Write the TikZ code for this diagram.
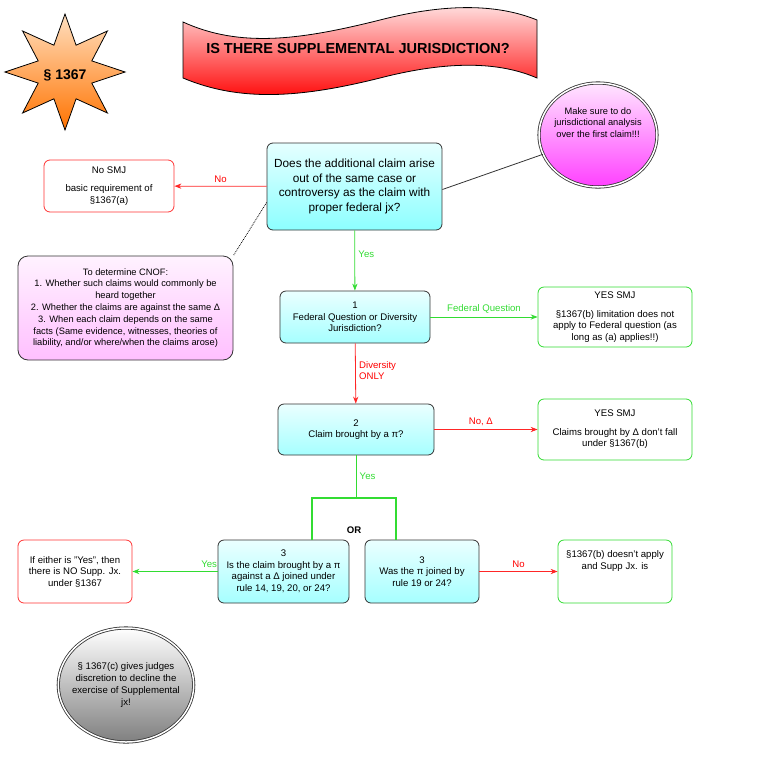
\documentclass[tikz,border=0pt]{standalone}
\usepackage{fontspec}
\setmainfont{Liberation Sans}
\usetikzlibrary{arrows.meta,shapes.geometric}
\definecolor{okgreen}{RGB}{50,220,50}
\tikzset{
  qbox/.style={draw=black!80,rounded corners=6pt,top color=cyan!8,bottom color=cyan!35,align=center,font=\fontsize{9.6}{11.5}\selectfont,inner sep=1pt},
  nobox/.style={draw=red!80,rounded corners=6pt,fill=white,align=center,font=\fontsize{9.6}{11.5}\selectfont,inner sep=1pt},
  yesbox/.style={draw=okgreen,rounded corners=6pt,fill=white,align=center,font=\fontsize{9.6}{11.5}\selectfont,inner sep=1pt},
  yesarr/.style={draw=okgreen,-{Stealth[length=7pt]}},
  noarr/.style={draw=red!85,-{Stealth[length=7pt]}},
  lbl/.style={font=\fontsize{9.6}{11}\selectfont}
}
\begin{document}
\begin{tikzpicture}[x=1pt,y=-1pt,line width=0.8pt]
 		\useasboundingbox (0,0) rectangle (768,761);
 		% star and banner
 		\draw[top color=orange!25,bottom color=orange!90!red] plot[samples at={0,...,15}] ({65+(mod(\x,2)==0?60:29)*sin(\x*22.5)},{72-(mod(\x,2)==0?58:29)*cos(\x*22.5)}) -- cycle;
 		\node[font=\bfseries\fontsize{14}{15}\selectfont] (sec) at (65,75) {§ 1367};
 		\draw[top color=red!10,bottom color=red] (183,22) .. controls (240,48) and (300,40) .. (380,20) .. controls (450,2) and (500,5) .. (537,20) -- (537,78) .. controls (500,62) and (450,60) .. (380,78) .. controls (300,98) and (240,102) .. (183,78) -- cycle;
 		\node[font=\bfseries\fontsize{14.5}{16}\selectfont] (title) at (358,49) {IS THERE SUPPLEMENTAL JURISDICTION?};
 		% main question
 		\node[qbox,font=\fontsize{11.8}{14.5}\selectfont,minimum width=175pt,minimum height=87pt,top color=cyan!10,bottom color=cyan!45] (cnof) at (354.5,186.5) {Does the additional claim arise\\out of the same case or\\controversy as the claim with\\proper federal jx?};
 		\node[nobox,minimum width=130pt,minimum height=52pt] (nosmj) at (109,186) {No SMJ\\[7pt]basic requirement of\\§1367(a)};
 		\node[draw=black!80,rounded corners=10pt,top color=magenta!5,bottom color=magenta!25,align=center,minimum width=215pt,minimum height=104pt,inner sep=1pt,font=\fontsize{9.3}{11.8}\selectfont] (test) at (125.5,308) {To determine CNOF:\\1. Whether such claims would commonly be\\heard together\\2. Whether the claims are against the same Δ\\3. When each claim depends on the same\\facts (Same evidence, witnesses, theories of\\liability, and/or where/when the claims arose)};
 		\node[draw=black!80,double=white,double distance=1.5pt,ellipse,top color=magenta!10,bottom color=magenta!75,minimum width=118pt,minimum height=104pt,align=center,inner sep=-2pt,font=\fontsize{9.3}{11.5}\selectfont] (first) at (598,135) {Make sure to do\\jurisdictional analysis\\over the first claim!!!\\[14pt]};
 		% steps
 		\node[qbox,minimum width=150pt,minimum height=52pt] (fq) at (355,317) {1\\Federal Question or Diversity\\Jurisdiction?};
 		\node[yesbox,minimum width=154pt,minimum height=60pt] (yes1) at (615,317) {YES SMJ\\[7pt]§1367(b) limitation does not\\apply to Federal question (as\\long as (a) applies!!)};
 		\node[qbox,minimum width=156pt,minimum height=51pt] (pi) at (356,429.5) {2\\Claim brought by a π?};
 		\node[yesbox,minimum width=154pt,minimum height=61pt] (yes2) at (615,429.5) {YES SMJ\\[7pt]Claims brought by Δ don't fall\\under §1367(b)};
 		\node[qbox,minimum width=131pt,minimum height=63pt] (rule) at (283.5,571.5) {3\\Is the claim brought by a π\\against a Δ joined under\\rule 14, 19, 20, or 24?};
 		\node[qbox,minimum width=114pt,minimum height=63pt] (join) at (422,571.5) {3\\Was the π joined by\\rule 19 or 24?};
 		\node[nobox,minimum width=114pt,minimum height=63pt] (nosupp) at (75,571.5) {If either is "Yes", then\\there is NO Supp. Jx.\\under §1367};
 		\node[yesbox,minimum width=114pt,minimum height=63pt] (supp) at (615,571.5) {§1367(b) doesn't apply\\and Supp Jx. is\\[11pt]};
 		\node[draw=black!80,double=white,double distance=1.5pt,ellipse,top color=white,bottom color=black!50,minimum width=132pt,minimum height=114pt,align=center,inner sep=-6pt,font=\fontsize{9.6}{11.8}\selectfont] (disc) at (126,685) {§ 1367(c) gives judges\\discretion to decline the\\exercise of Supplemental\\jx!};
 		\node[font=\bfseries\fontsize{9.6}{11}\selectfont] (or) at (354,530) {OR};
 		% connectors
 		\draw[noarr] (cnof) -- node[lbl,above,text=red]{No} (nosmj);
 		\draw[black!80] (cnof.east) ++(0,3) -- (first);
 		\draw[densely dotted] (cnof.west) ++(0,16) -- (test.north east) ++(-33,0);
 		\draw[yesarr] (cnof) -- node[lbl,right,text=okgreen,pos=0.4]{Yes} (fq);
 		\draw[yesarr] (fq) -- node[lbl,above,text=okgreen]{Federal Question} (yes1);
 		\draw[noarr] (fq) -- node[lbl,right,text=red,align=left,pos=0.45]{Diversity\\ONLY} (pi);
 		\draw[noarr] (pi) -- node[lbl,above,text=red,pos=0.45]{No, Δ} (yes2);
 		\draw[okgreen,line width=1.6pt] (rule.north -| 312,0) |- (356,498) -| (join.north -| 396,0);
 		\draw[okgreen] (pi) -- node[lbl,right,text=okgreen]{Yes} (356,498);
 		\draw[yesarr,line width=1.4pt] (rule) -- node[lbl,above,text=okgreen,pos=0.1]{Yes} (nosupp);
 		\draw[noarr] (join) -- node[lbl,above,text=red]{No} (supp);
\end{tikzpicture}
\end{document}
